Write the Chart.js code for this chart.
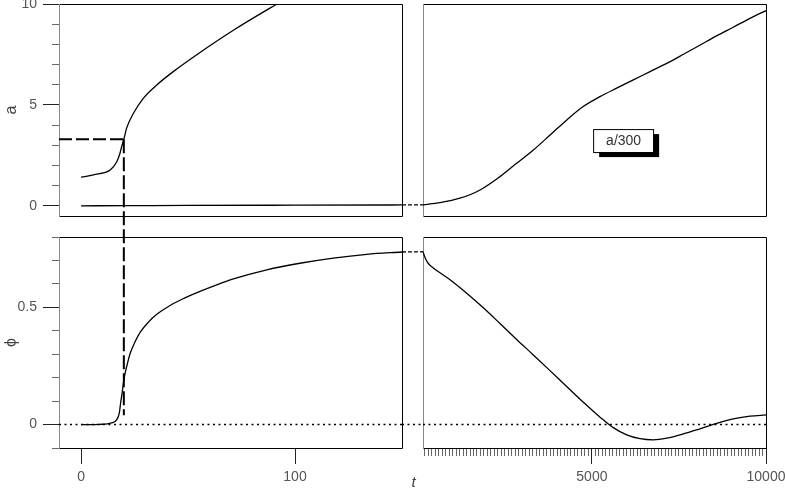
<!DOCTYPE html>
<html lang="en">
<head>
  <meta charset="UTF-8">
  <title>a and phi against t</title>
  <script src="https://cdn.jsdelivr.net/npm/chart.js"></script>
  <style>
    body { margin: 0; background: #fff; }
    .wrap { position: relative; width: 785px; height: 489px; }
    .wrap canvas { position: absolute; left: 0; top: 0; }
  </style>
</head>
<body>
  <div class="wrap">
    <canvas id="chartTL" width="785" height="489"></canvas>
    <canvas id="chartTR" width="785" height="489"></canvas>
    <canvas id="chartBL" width="785" height="489"></canvas>
    <canvas id="chartBR" width="785" height="489"></canvas>
  </div>

<script>
  // ---- data ----
  // early times (left panels)
  var tA = [0, 7.3, 13.6, 16.7, 18.2, 19, 20, 21.3, 24.5, 29.1, 35.4, 43.1, 55.6, 71.2, 91.4, 100];
  var aEarly = [1.42, 1.57, 1.78, 2.19, 2.61, 2.94, 3.3, 3.85, 4.59, 5.33, 5.99, 6.65, 7.6, 8.7, 9.99, 10.52];

  var tA300 = [0, 20, 50, 100, 150];
  var a300Early = [0.005, 0.011, 0.022, 0.035, 0.047];

  var tPhi = [0, 8.9, 14.3, 16.7, 17.9, 18.5, 19.2, 19.8, 20.6, 21.7, 22.9, 25.2, 27.6, 31.5, 35.4, 41.6, 47.8, 55.6, 63.4, 71.2, 86.8, 102.3, 117.9, 133.5, 150];
  var phiEarly = [0, 0.001, 0.007, 0.021, 0.05, 0.092, 0.134, 0.177, 0.219, 0.261, 0.302, 0.352, 0.393, 0.437, 0.47, 0.508, 0.537, 0.568, 0.596, 0.621, 0.66, 0.688, 0.71, 0.726, 0.736];

  // late times (right panels)
  var tLate = [150, 640, 1210, 1790, 2360, 2840, 3320, 3800, 4280, 4750, 5230, 5710, 6190, 6670, 7150, 7630, 8110, 8580, 9060, 9540, 10000];
  var a300Late = [0.05, 0.16, 0.38, 0.79, 1.45, 2.11, 2.77, 3.51, 4.26, 4.92, 5.41, 5.83, 6.24, 6.65, 7.06, 7.51, 7.97, 8.42, 8.85, 9.29, 9.67];

  var tPhiLate = [150, 207, 303, 446, 733, 1020, 1405, 1882, 2361, 2840, 3318, 3797, 4276, 4754, 5041, 5328, 5615, 5999, 6382, 6765, 7148, 7626, 8105, 8584, 9062, 9541, 10000];
  var phiLate = [0.737, 0.713, 0.687, 0.668, 0.638, 0.607, 0.56, 0.498, 0.431, 0.363, 0.297, 0.23, 0.162, 0.095, 0.057, 0.02, -0.013, -0.044, -0.06, -0.065, -0.058, -0.04, -0.018, 0.005, 0.024, 0.036, 0.041];

  // guide marking the jump
  var guideT = 20;
  var guideA = 3.3;
  var guidePhi = 0.04;

  // axes
  var xEarlyRange = [-10.3, 150];
  var xLateRange = [150, 10000];
  var aRange = [-0.5, 10];
  var phiRange = [-0.1, 0.8];

  var aTicks = [0, 1, 2, 3, 4, 5, 6, 7, 8, 9, 10];
  var aLabels = [0, 5, 10];
  var phiTicks = [-0.1, 0, 0.1, 0.2, 0.3, 0.4, 0.5, 0.6, 0.7, 0.8];
  var phiLabels = [0, 0.5];
  var tEarlyTicks = [0, 100];
  var tLateMajor = [5000, 10000];
  var tLateMinorStep = 100;
  var tLateMinorStart = 200;

  var FONT = "'Liberation Sans', Arial, sans-serif";
  var LABEL_COLOR = '#555';

  function pts(xs, ys) {
    return xs.map(function (x, i) { return { x: x, y: ys[i] }; });
  }

  function curve(xs, ys) {
    return {
      data: pts(xs, ys),
      borderColor: '#000',
      borderWidth: 1.3,
      pointRadius: 0,
      cubicInterpolationMode: 'monotone'
    };
  }

  // box round the plot area, left side grey like the original
  var framePlugin = {
    id: 'frame',
    beforeDatasetsDraw: function (chart) {
      var a = chart.chartArea, c = chart.ctx;
      c.save();
      c.lineWidth = 1;
      c.strokeStyle = '#000';
      c.beginPath();
      c.moveTo(a.left, a.top + 0.5);
      c.lineTo(a.right + 0.5, a.top + 0.5);
      c.lineTo(a.right + 0.5, a.bottom + 0.5);
      c.lineTo(a.left, a.bottom + 0.5);
      c.stroke();
      c.strokeStyle = '#888';
      c.beginPath();
      c.moveTo(a.left + 0.5, a.top);
      c.lineTo(a.left + 0.5, a.bottom + 1);
      c.stroke();
      c.restore();
    }
  };

  function hiddenAxis(range) {
    return { type: 'linear', display: false, min: range[0], max: range[1] };
  }

  function leftAxis(range, ticks, labels, title) {
    return {
      type: 'linear',
      position: 'left',
      min: range[0],
      max: range[1],
      afterBuildTicks: function (s) { s.ticks = ticks.map(function (v) { return { value: v }; }); },
      afterFit: function (s) { s.width = 59; s.paddingTop = 0; s.paddingBottom = 0; },
      border: { display: false },
      grid: {
        drawOnChartArea: false,
        tickLength: 16,
        tickWidth: 1,
        tickColor: function (ctx) { return labels.includes(ctx.tick.value) ? '#222' : '#666'; },
        // minor ticks: only the inner 7px of the mark is drawn
        tickBorderDash: function (ctx) { return labels.includes(ctx.tick.value) ? [] : [0, 9, 7, 100]; }
      },
      ticks: {
        autoSkip: false,
        padding: 6,
        color: LABEL_COLOR,
        font: { family: FONT, size: 14 },
        callback: function (v) { return labels.includes(v) ? String(v) : ''; }
      },
      title: {
        display: true,
        text: title,
        color: '#444',
        font: { family: FONT, size: 16 },
        padding: { top: 2, bottom: 0 }
      }
    };
  }

  function bottomAxis(range, ticks, labels) {
    return {
      type: 'linear',
      position: 'bottom',
      min: range[0],
      max: range[1],
      afterBuildTicks: function (s) { s.ticks = ticks.map(function (v) { return { value: v }; }); },
      afterFit: function (s) { s.height = 41; s.paddingLeft = 0; s.paddingRight = 0; },
      border: { display: false },
      grid: {
        drawOnChartArea: false,
        tickLength: 16,
        tickWidth: 1,
        tickColor: function (ctx) { return labels.includes(ctx.tick.value) ? '#222' : '#666'; },
        tickBorderDash: function (ctx) { return labels.includes(ctx.tick.value) ? [] : [8, 100]; }
      },
      ticks: {
        autoSkip: false,
        maxRotation: 0,
        padding: 5,
        color: LABEL_COLOR,
        font: { family: FONT, size: 14 },
        callback: function (v) { return labels.includes(v) ? String(v) : ''; }
      }
    };
  }

  function baseOptions(pad, scales) {
    return {
      responsive: false,
      animation: false,
      events: [],
      layout: { padding: pad },
      plugins: { legend: { display: false }, tooltip: { enabled: false } },
      scales: scales
    };
  }

  // ---- top left: a and a/300, early ----
  var horizGuide = {
    data: [{ x: xEarlyRange[0], y: guideA }, { x: guideT, y: guideA }],
    borderColor: '#000',
    borderWidth: 2,
    borderDash: [13, 4],
    pointRadius: 0
  };

  var chartTL = new Chart(document.getElementById('chartTL'), {
    type: 'line',
    data: { datasets: [curve(tA, aEarly), curve(tA300, a300Early), horizGuide] },
    options: baseOptions({ left: 0, top: 4, right: 383, bottom: 273 }, {
      x: hiddenAxis(xEarlyRange),
      y: leftAxis(aRange, aTicks, aLabels, 'a')
    }),
    plugins: [framePlugin]
  });

  // ---- top right: a/300, late ----
  var legendPlugin = {
    id: 'a300Label',
    afterDraw: function (chart) {
      var a = chart.chartArea, c = chart.ctx;
      var w = 60, h = 23;
      var x = a.left + 0.496 * (a.right - a.left);
      var y = a.top + 0.59 * (a.bottom - a.top);
      c.save();
      c.fillStyle = '#000';
      c.fillRect(x + 6, y + 5, w, h);
      c.fillStyle = '#fff';
      c.fillRect(x, y, w, h);
      c.strokeStyle = '#000';
      c.lineWidth = 1;
      c.strokeRect(x + 0.5, y + 0.5, w, h);
      c.fillStyle = '#333';
      c.font = '14px ' + FONT;
      c.textAlign = 'center';
      c.textBaseline = 'middle';
      c.fillText('a/300', x + w / 2 + 0.5, y + h / 2 + 1);
      c.restore();
    }
  };

  var chartTR = new Chart(document.getElementById('chartTR'), {
    type: 'line',
    data: { datasets: [curve(tLate, a300Late)] },
    options: baseOptions({ left: 423, top: 4, right: 19, bottom: 273 }, {
      x: hiddenAxis(xLateRange),
      y: hiddenAxis(aRange)
    }),
    plugins: [framePlugin, legendPlugin]
  });

  // ---- bottom left: phi, early ----
  var zeroEarly = {
    data: [{ x: xEarlyRange[0], y: 0 }, { x: xEarlyRange[1], y: 0 }],
    borderColor: '#000',
    borderWidth: 1.5,
    borderDash: [2, 3.5],
    pointRadius: 0
  };

  var chartBL = new Chart(document.getElementById('chartBL'), {
    type: 'line',
    data: { datasets: [curve(tPhi, phiEarly), zeroEarly] },
    options: baseOptions({ left: 0, top: 237, right: 383, bottom: 0 }, {
      x: bottomAxis(xEarlyRange, tEarlyTicks, tEarlyTicks),
      y: leftAxis(phiRange, phiTicks, phiLabels, '\u03d5')
    }),
    plugins: [framePlugin]
  });

  // ---- bottom right: phi, late ----
  var lateTicks = [];
  for (var v = tLateMinorStart; v <= xLateRange[1]; v += tLateMinorStep) lateTicks.push(v);

  var zeroLate = {
    data: [{ x: xLateRange[0], y: 0 }, { x: xLateRange[1], y: 0 }],
    borderColor: '#000',
    borderWidth: 1.5,
    borderDash: [2, 3.5],
    pointRadius: 0
  };

  function strokeLine(c, x1, y1, x2, y2, dash, width) {
    c.save();
    c.strokeStyle = '#000';
    c.lineWidth = width;
    c.setLineDash(dash);
    c.beginPath();
    c.moveTo(x1, y1);
    c.lineTo(x2, y2);
    c.stroke();
    c.restore();
  }

  // links between the panels, the vertical guide and the shared t title
  var linkPlugin = {
    id: 'links',
    afterDraw: function (chart) {
      var c = chart.ctx;
      var tlx = chartTL.scales.x, tly = chartTL.scales.y;
      var trx = chartTR.scales.x, try_ = chartTR.scales.y;
      var blx = chartBL.scales.x, bly = chartBL.scales.y;
      var brx = chart.scales.x, bry = chart.scales.y;

      strokeLine(c,
        tlx.getPixelForValue(tA300[tA300.length - 1]), tly.getPixelForValue(a300Early[a300Early.length - 1]),
        trx.getPixelForValue(tLate[0]), try_.getPixelForValue(a300Late[0]), [4, 2], 1.3);

      strokeLine(c,
        blx.getPixelForValue(tPhi[tPhi.length - 1]), bly.getPixelForValue(phiEarly[phiEarly.length - 1]),
        brx.getPixelForValue(tPhiLate[0]), bry.getPixelForValue(phiLate[0]), [4, 2], 1.3);

      strokeLine(c,
        blx.getPixelForValue(xEarlyRange[1]), bly.getPixelForValue(0),
        brx.getPixelForValue(xLateRange[0]), bry.getPixelForValue(0), [2, 3.5], 1.5);

      strokeLine(c,
        tlx.getPixelForValue(guideT), tly.getPixelForValue(guideA),
        tlx.getPixelForValue(guideT), bly.getPixelForValue(guidePhi), [14, 4], 2);

      c.save();
      c.fillStyle = '#444';
      c.font = 'italic 15px ' + FONT;
      c.textAlign = 'center';
      c.textBaseline = 'middle';
      c.fillText('t', (chartTL.chartArea.right + chartTR.chartArea.left) / 2 + 1, chart.height - 6);
      c.restore();
    }
  };

  var chartBR = new Chart(document.getElementById('chartBR'), {
    type: 'line',
    data: { datasets: [curve(tPhiLate, phiLate), zeroLate] },
    options: baseOptions({ left: 423, top: 237, right: 19, bottom: 0 }, {
      x: bottomAxis(xLateRange, lateTicks, tLateMajor),
      y: hiddenAxis(phiRange)
    }),
    plugins: [framePlugin, linkPlugin]
  });
</script>
</body>
</html>
